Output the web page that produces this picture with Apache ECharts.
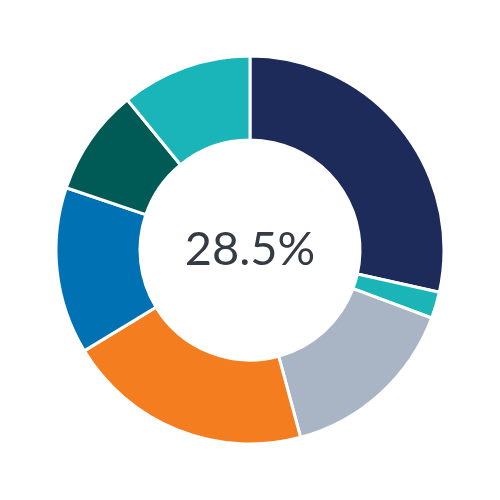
<!DOCTYPE html>
<html>
<head>
<meta charset="utf-8">
<script src="https://cdn.jsdelivr.net/npm/echarts@6/dist/echarts.min.js"></script>
<style>
	html, body { margin: 0; padding: 0; background: #fff; }
	#chart { width: 500px; height: 500px; }
</style>
</head>
<body>
<div id="chart"></div>
<script>
	// slice shares, clockwise from 12 o'clock
	var names = ['A', 'B', 'C', 'D', 'E', 'F', 'G'];
	var values = [28.5, 2.2, 15.1, 20.5, 13.9, 8.9, 10.9];
	var colors = ['#1c2b5a', '#1bb5b8', '#a9b4c4', '#f47d20', '#0072b4', '#005a56', '#1ab5b8'];
	var centerText = '28.5%';

	var data = [];
	for (var i = 0, j = values.length; i < j; i++) {
		data.push({ name: names[i], value: values[i], itemStyle: { color: colors[i] } });
	}

	var myChart = echarts.init(document.getElementById('chart'));
	myChart.setOption({
		animation: false,
		title: {
			text: centerText,
			left: 'center',
			top: 'middle',
			textStyle: {
				fontFamily: 'Lato',
				fontWeight: 'normal',
				fontSize: 47,
				color: '#353b45'
			}
		},
		series: [{
			type: 'pie',
			center: [250, 250],
			radius: [110, 194],
			startAngle: 90,
			clockwise: true,
			label: { show: false },
			labelLine: { show: false },
			itemStyle: { borderColor: '#fff', borderWidth: 3 },
			data: data
		}]
	});
</script>
</body>
</html>
